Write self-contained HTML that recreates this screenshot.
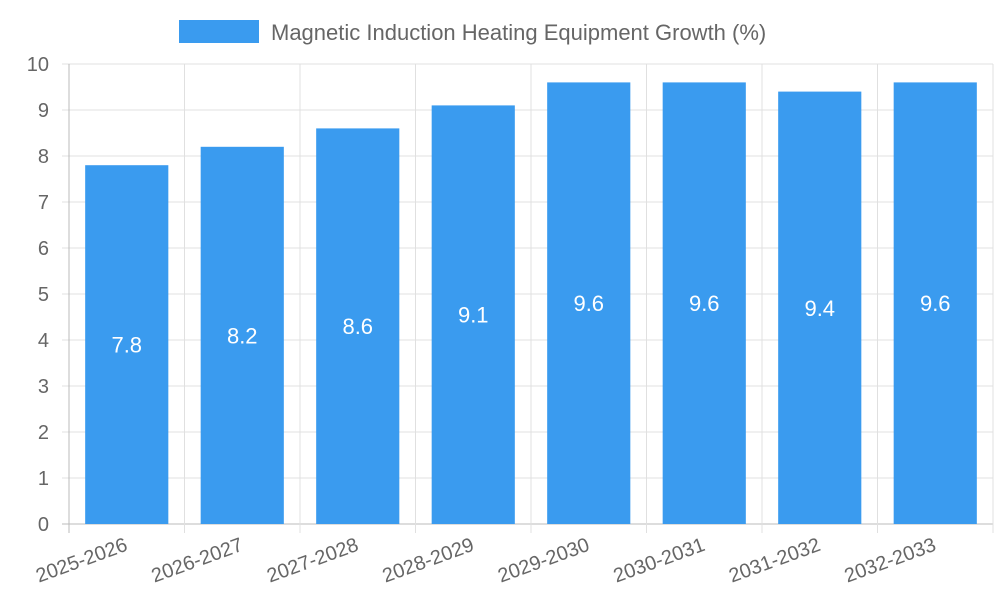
<!DOCTYPE html>
<html><head><meta charset="utf-8"><style>
body{margin:0;background:#fff}
svg{display:block;font-family:"Liberation Sans",sans-serif}
</style></head><body>
<svg id="c" width="1000" height="600">
<g id="legend">
<rect x="179" y="20" width="80" height="23" fill="#3a9bef"/>
<text x="271" y="40" font-size="22" fill="#666">Magnetic Induction Heating Equipment Growth (%)</text>
</g>
<g id="grid"></g><g id="bars"></g><g id="labels"></g>
</svg>
<script>
const categories=["2025-2026","2026-2027","2027-2028","2028-2029","2029-2030","2030-2031","2031-2032","2032-2033"];
const values=[7.8,8.2,8.6,9.1,9.6,9.6,9.4,9.6];
const yTicks=[0,1,2,3,4,5,6,7,8,9,10];
const L=69,R=993,T=64,B=524,yMax=10;
const bw=(R-L)/categories.length;
const y=v=>B-(v/yMax)*(B-T);
const x=i=>L+bw*i;
const NS="http://www.w3.org/2000/svg";
function mk(t,a,p){const e=document.createElementNS(NS,t);for(const k in a)e.setAttribute(k,a[k]);p.appendChild(e);return e;}
const g=document.getElementById('grid'),bars=document.getElementById('bars'),lab=document.getElementById('labels');
yTicks.forEach(t=>{
 const l=mk('line',{x1:L-7,x2:R,y1:y(t),y2:y(t),stroke:t===0?'#bbb':'#e0e0e0','stroke-width':1},g);
 
 
 const tx=mk('text',{x:L-20,y:y(t)+7,'font-size':20,fill:'#666','text-anchor':'end'},g);
 tx.textContent=t;
 
 
});
for(let i=0;i<=categories.length;i++){
 const l=mk('line',{x1:x(i),x2:x(i),y1:T,y2:B+9,stroke:i===0?'#bbb':'#e0e0e0','stroke-width':1},g);
 
 
}
categories.forEach((c,i)=>{
 const cx=x(i)+bw/2,w=bw*0.72;
 const r=mk('rect',{x:cx-w/2,y:y(values[i]),width:w,height:B-y(values[i]),fill:'#3a9bef'},bars);
 
 
 const v=mk('text',{x:cx,y:(y(values[i])+B)/2+8,'font-size':22,fill:'#fff','text-anchor':'middle'},lab);
 v.textContent=values[i];
 
 
 const t=mk('text',{x:cx+2,y:B+26,'font-size':20,fill:'#666','text-anchor':'end',transform:`rotate(-20 ${cx+2} ${B+26})`},lab);
 t.textContent=c;
 
 
});
</script>
</body></html>
